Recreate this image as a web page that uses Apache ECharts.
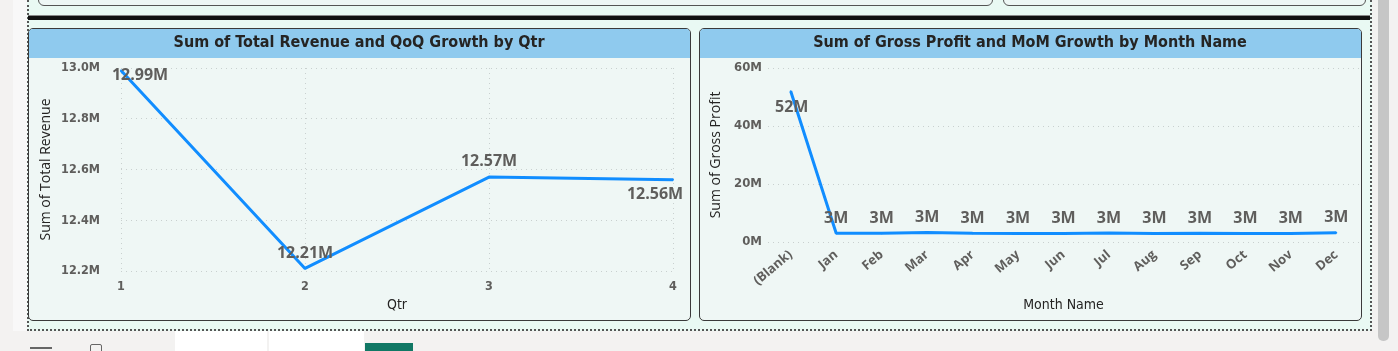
<!DOCTYPE html>
<html>
<head>
<meta charset="utf-8">
<script src="https://cdn.jsdelivr.net/npm/echarts@6/dist/echarts.min.js"></script>
<style>
  html, body { margin: 0; padding: 0; }
  body { width: 1398px; height: 351px; overflow: hidden; background: #f3f2f1; position: relative; font-family: "Open Sans", sans-serif; }
  .abs { position: absolute; box-sizing: border-box; }
  .strip { left: 13px; top: 0; width: 14px; height: 331px; background: #f8f8f8; }
  .canvas { left: 27px; top: 0; width: 1345px; height: 331px; background: #e9f9f3; border-left: 2px dotted #555; border-right: 2px dotted #555; border-bottom: 2px dotted #555; }
  .prev { top: -12px; height: 18px; border: 1px solid #555; border-radius: 6px; background: #eef7f5; }
  .rule { left: 28px; top: 15px; width: 1342px; height: 5px; border-top: 1px solid #888; background: #111; }
  .panel { top: 28px; height: 293px; border: 1px solid #3a3a3a; border-radius: 5px; background: #eff7f5; overflow: hidden; }
  .panel .head { position: absolute; left: 0; top: 0; right: 0; height: 29px; background: #8fcaee; }
  .scroll { left: 1378px; top: 0; width: 11px; height: 341px; background: #c6c6c6; border-radius: 0 0 5px 5px; }
  .tab { top: 331px; height: 20px; background: #fff; }
  .green { left: 365px; top: 343px; width: 48px; height: 8px; background: #117865; }
  #chart { left: 0; top: 0; width: 1398px; height: 351px; }
</style>
</head>
<body>
<div class="abs strip"></div>
<div class="abs canvas"></div>
<div class="abs prev" style="left:38px;width:955px;"></div>
<div class="abs prev" style="left:1003px;width:363px;"></div>
<div class="abs rule"></div>
<div class="abs panel" style="left:28px;width:663px;"><div class="head"></div></div>
<div class="abs panel" style="left:699px;width:663px;"><div class="head"></div></div>
<div class="abs scroll"></div>
<div class="abs tab" style="left:175px;width:92px;"></div>
<div class="abs tab" style="left:269px;width:95px;"></div>
<div class="abs green"></div>
<div class="abs" style="left:30px;top:347px;width:22px;height:2px;background:#666;"></div>
<div class="abs" style="left:90px;top:344px;width:12px;height:10px;border:1px solid #666;border-radius:2px;"></div>
<div id="chart" class="abs"></div>
<script>
// left chart: revenue by quarter (millions)
var quarters = ['1', '2', '3', '4'];
var revenue = [12.99, 12.21, 12.57, 12.56];
var revenueTicks = { min: 12.2, max: 13.0, step: 0.2 };

// right chart: gross profit by month name (millions)
var months = ['(Blank)', 'Jan', 'Feb', 'Mar', 'Apr', 'May', 'Jun', 'Jul', 'Aug', 'Sep', 'Oct', 'Nov', 'Dec'];
var grossProfit = [52.0, 3.0, 3.0, 3.3, 3.0, 2.9, 2.9, 3.1, 2.9, 3.0, 2.9, 2.9, 3.2];
var profitTicks = { min: 0, max: 60, step: 20 };

var blue = '#118dff';
var labelGrey = '#5f5e5c';
var tickFont = '"DejaVu Sans Condensed", "Liberation Sans Narrow", sans-serif';
var labelFont = '"Open Sans", sans-serif';

var chart = echarts.init(document.getElementById('chart'), null, { renderer: 'canvas', devicePixelRatio: 1 });

// per-point label placement, like Power BI does it
var revLabelPos = [
  { position: 'inside', offset: [19, 5] },
  { position: 'top', distance: 6 },
  { position: 'top', distance: 7 },
  { position: 'inside', offset: [-18, 15] }
];

var revData = revenue.map(function (v, i) {
  return { value: v, label: revLabelPos[i] };
});
var gpData = grossProfit.map(function (v, i) {
  if (i === 0) return { value: v, label: { position: 'inside', offset: [1, 16] } };
  return { value: v };
});

var titleStyle = {
  fontFamily: tickFont,
  fontWeight: 'bold',
  fontSize: 16,
  color: '#252423'
};

var option = {
  animation: false,
  backgroundColor: 'transparent',
  title: [
    { text: 'Sum of Total Revenue and QoQ Growth by Qtr', left: 359, top: 35, textAlign: 'center', padding: 0, textStyle: titleStyle },
    { text: 'Sum of Gross Profit and MoM Growth by Month Name', left: 1030, top: 35, textAlign: 'center', padding: 0, textStyle: titleStyle }
  ],
  grid: [
    { left: 121, right: 725, top: 68, bottom: 80 },
    { left: 768, right: 39, top: 68, bottom: 109 }
  ],
  xAxis: [
    {
      gridIndex: 0,
      type: 'category',
      data: quarters,
      boundaryGap: false,
      name: 'Qtr',
      nameLocation: 'middle',
      nameGap: 26,
      nameTextStyle: { fontFamily: tickFont, fontSize: 14, color: '#252423' },
      axisLine: { show: false },
      axisTick: { show: false },
      axisLabel: { margin: 9, fontFamily: tickFont, fontWeight: 'bold', fontSize: 12.5, color: labelGrey },
      splitLine: { show: true, lineStyle: { type: [1, 4], color: '#c9d0cf' } }
    },
    {
      gridIndex: 1,
      type: 'category',
      data: months,
      boundaryGap: true,
      name: 'Month Name',
      nameLocation: 'middle',
      nameGap: 56,
      nameTextStyle: { fontFamily: tickFont, fontSize: 14, color: '#252423' },
      axisLine: { show: false },
      axisTick: { show: false },
      axisLabel: { interval: 0, rotate: 40, margin: 11, fontFamily: labelFont, fontWeight: 'bold', fontSize: 13, color: labelGrey },
      splitLine: { show: false }
    }
  ],
  yAxis: [
    {
      gridIndex: 0,
      type: 'value',
      min: revenueTicks.min,
      max: revenueTicks.max,
      interval: revenueTicks.step,
      name: 'Sum of Total Revenue',
      nameLocation: 'middle',
      nameGap: 68,
      nameTextStyle: { fontFamily: labelFont, fontSize: 14, color: '#252423' },
      axisLine: { show: false },
      axisTick: { show: false },
      axisLabel: {
        margin: 21, fontFamily: tickFont, fontWeight: 'bold', fontSize: 12.5, color: labelGrey,
        formatter: function (v) { return v.toFixed(1) + 'M'; }
      },
      splitLine: { lineStyle: { type: [1, 4], color: '#c9d0cf' } }
    },
    {
      gridIndex: 1,
      type: 'value',
      min: profitTicks.min,
      max: profitTicks.max,
      interval: profitTicks.step,
      name: 'Sum of Gross Profit',
      nameLocation: 'middle',
      nameGap: 45,
      nameTextStyle: { fontFamily: labelFont, fontSize: 14, color: '#252423' },
      axisLine: { show: false },
      axisTick: { show: false },
      axisLabel: {
        margin: 6, fontFamily: tickFont, fontWeight: 'bold', fontSize: 13, color: labelGrey,
        formatter: function (v) { return v + 'M'; }
      },
      splitLine: { lineStyle: { type: [1, 4], color: '#c9d0cf' } }
    }
  ],
  series: [
    {
      type: 'line',
      xAxisIndex: 0,
      yAxisIndex: 0,
      data: revData,
      symbol: 'circle',
      symbolSize: 2,
      itemStyle: { color: blue },
      lineStyle: { color: blue, width: 3 },
      label: {
        show: true,
        fontFamily: labelFont,
        fontWeight: 'bold',
        fontSize: 16,
        color: labelGrey,
        formatter: function (p) { return p.value.toFixed(2) + 'M'; }
      }
    },
    {
      type: 'line',
      xAxisIndex: 1,
      yAxisIndex: 1,
      data: gpData,
      symbol: 'circle',
      symbolSize: 2,
      itemStyle: { color: blue },
      lineStyle: { color: blue, width: 3 },
      label: {
        show: true,
        position: 'top',
        distance: 6,
        fontFamily: labelFont,
        fontWeight: 'bold',
        fontSize: 16,
        color: labelGrey,
        formatter: function (p) { return Math.round(p.value) + 'M'; }
      }
    }
  ]
};

option && chart.setOption(option);
</script>
</body>
</html>
